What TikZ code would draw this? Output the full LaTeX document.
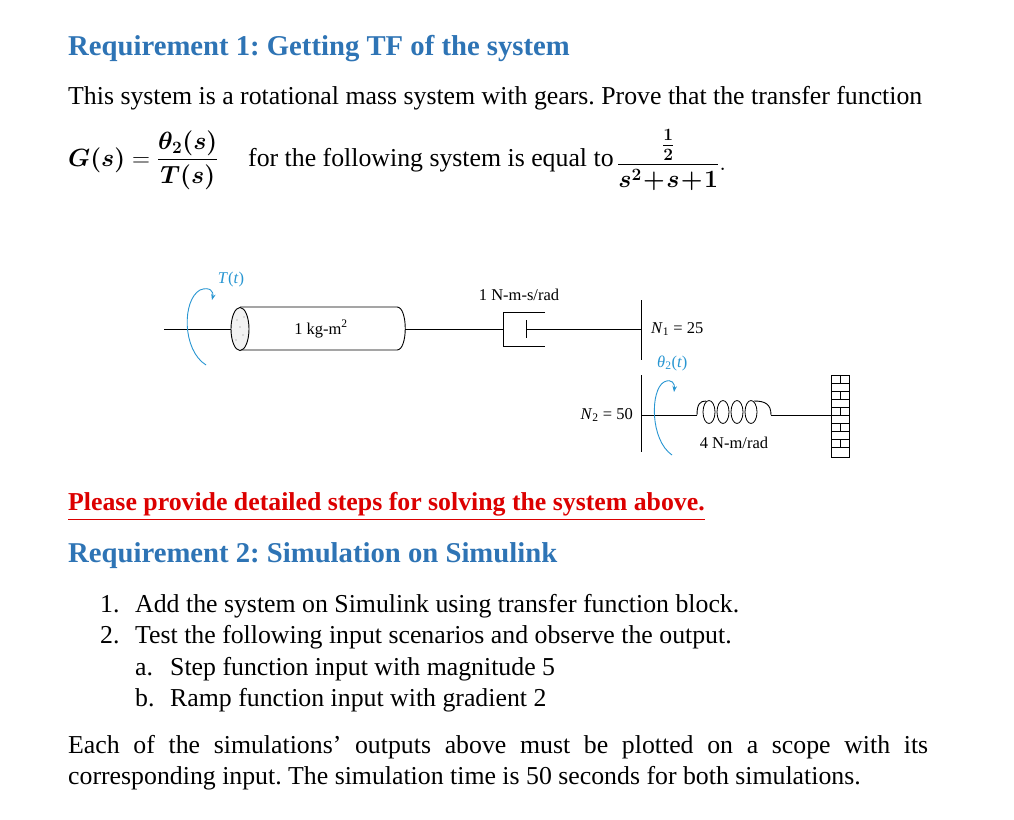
\documentclass[tikz,border=0pt]{standalone}
\usepackage{amsmath,bm}
\usepackage{fontspec}
\setmainfont{Liberation Serif}
\usetikzlibrary{arrows.meta}
\definecolor{hblue}{RGB}{46,116,181}
\definecolor{dblue}{RGB}{40,150,210}
\definecolor{pred}{RGB}{220,0,0}
\frenchspacing
\begin{document}
\begin{tikzpicture}[x=1pt,y=-1pt,
  body/.style={anchor=base west,inner sep=0pt,font=\fontsize{25.8}{31}\selectfont},
  head/.style={anchor=base west,inner sep=0pt,font=\fontsize{28.7}{32}\selectfont\bfseries,text=hblue},
  dlab/.style={inner sep=0pt,font=\fontsize{16.5}{18}\selectfont},
  mech/.style={line width=0.9pt},
  rot/.style={dblue,line width=0.9pt,-{Stealth[length=6pt]}}]
\useasboundingbox (0,0) rectangle (1014,819);
\fill[white] (0,0) rectangle (1014,819);
% texts
\node[head] (h1) at (68,55) {Requirement 1: Getting TF of the system};
\node[body] (t1) at (68,104) {This system is a rotational mass system with gears. Prove that the transfer function};
\node[anchor=west,inner sep=0pt,font=\fontsize{25}{28}\selectfont] (g) at (68,160)
 {$\bm{G(s)}=\dfrac{\bm{\theta_2(s)}}{\bm{T(s)}}$};
\node[anchor=west,inner sep=0pt,font=\fontsize{25.8}{31}\selectfont] (t2) at (248,160) {for the following system is equal to};
\node[anchor=west,inner sep=0pt,font=\fontsize{24}{28}\selectfont] (f2) at (617,160)
 {$\dfrac{\bm{\frac{1}{2}}}{\bm{s^2\!+\!s\!+\!1}}.$};
\node[anchor=base west,inner sep=0pt,font=\fontsize{25.8}{31}\selectfont\bfseries,text=pred] (pl) at (68,510)
 {\underline{Please provide detailed steps for solving the system above.}};
\node[head] (h2) at (68,562) {Requirement 2: Simulation on Simulink};
\node[body] (n1) at (100,612) {1.};
\node[body] (l1) at (135,612) {Add the system on Simulink using transfer function block.};
\node[body] (n2) at (100,643) {2.};
\node[body] (l2) at (135,643) {Test the following input scenarios and observe the output.};
\node[body] (na) at (135,675) {a.};
\node[body] (la) at (170,675) {Step function input with magnitude 5};
\node[body] (nb) at (135,706) {b.};
\node[body] (lb) at (170,706) {Ramp function input with gradient 2};
\node[anchor=north west,inner sep=0pt,text width=860pt,align=justify,font=\fontsize{25.8}{31}\selectfont] (par) at (68,735)
 {Each of the simulations' outputs above must be plotted on a scope with its \mbox{corresponding} input. The simulation time is 50 seconds for both simulations.};
% diagram
\coordinate (s0) at (164,329);
\coordinate (cl) at (240,329);
\draw[mech] (s0) -- (cl);
\draw[mech,fill=white] (240,307) -- (397,307) .. controls (408,307) and (408,350) .. (397,350) -- (240,350);
\draw[mech,fill=gray!10] (cl) ellipse[x radius=9,y radius=21.5];
\fill[gray] (237,320) circle(0.6) (243,335) circle(0.6) (240,327) circle(0.6) (236,340) circle(0.6) (244,317) circle(0.6);
\node[dlab] (J) at (321,329) {1 kg-m\textsuperscript{2}};
\draw[rot] (206,365) .. controls (182,350) and (182,300) .. (200,290) .. controls (210,286) and (214,292) .. (212,300);
\node[dlab,text=dblue] (T) at (231,280) {\textit{T}(\textit{t})};
\coordinate (d0) at (405,329);
\draw[mech] (d0) -- (503,329);
\draw[mech] (545,312) -- (503,312) -- (503,346) -- (545,346);
\draw[mech] (526,320) -- (526,338);
\coordinate (g1) at (641,329);
\draw[mech] (526,329) -- (g1);
\node[dlab] (B) at (519,295) {1 N-m-s/rad};
\draw[mech] (641,300) -- (641,360);
\node[dlab,anchor=west] (N1) at (651,329) {\textit{N}\textsubscript{1} = 25};
\node[dlab,anchor=west,text=dblue] (th) at (657,363) {\textit{θ}\textsubscript{2}(\textit{t})};
\draw[mech] (641,375) -- (641,452);
\node[dlab,anchor=east] (N2) at (633,415) {\textit{N}\textsubscript{2} = 50};
\coordinate (g2) at (641,415);
\coordinate (k0) at (697,415);
\coordinate (k1) at (771,415);
\draw[mech] (g2) -- (k0);
\draw[mech] (k0) .. controls (697,404) and (700,401) .. (706,401);
\foreach \c in {709,723,737,751} \draw[line width=0.8pt] (\c,412) ellipse[x radius=6,y radius=11.5];
\draw[mech] (754,401) .. controls (765,401) and (771,404) .. (k1);
\coordinate (w) at (831,415);
\draw[mech] (k1) -- (w);
\draw[mech] (831,375) rectangle (849,457);
\foreach \y in {383,391,...,451} \draw[line width=0.6pt] (831,\y) -- (849,\y);
\foreach \y in {375,391,...,447} \draw[line width=0.6pt] (840,\y) -- (840,\y+8);
\node[dlab] (K) at (734,443) {4 N-m/rad};
\draw[rot] (672,455) .. controls (650,440) and (650,390) .. (664,382) .. controls (672,378) and (675,384) .. (674,392);
\end{tikzpicture}
\end{document}
